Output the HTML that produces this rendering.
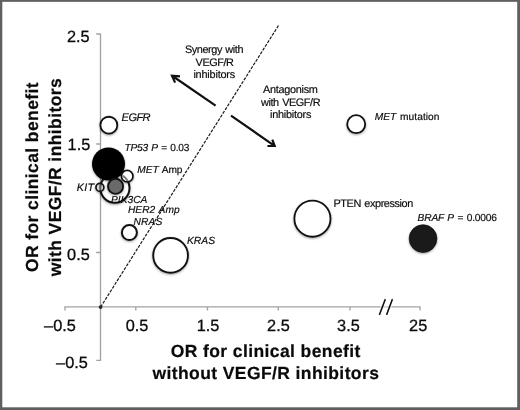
<!DOCTYPE html>
<html><head><meta charset="utf-8"><title>OR for clinical benefit</title>
<style>
html,body{margin:0;padding:0;background:#fff;}
body{width:520px;height:410px;overflow:hidden;}
svg{display:block;font-family:"Liberation Sans",Arial,Helvetica,sans-serif;text-rendering:geometricPrecision;}
.ax{stroke:#a2a2a2;stroke-width:1.35;fill:none;}
.tk{font-size:16.3px;fill:#0c0c0c;stroke:#0c0c0c;stroke-width:0.3px;}
.lb{font-size:10.9px;letter-spacing:-0.45px;word-spacing:0.8px;fill:#0c0c0c;stroke:#0c0c0c;stroke-width:0.18px;}
.it{font-style:italic;}
.ti{font-size:17.5px;letter-spacing:0.4px;font-weight:bold;fill:#0a0a0a;stroke:#0a0a0a;stroke-width:0.2px;}
.bb circle{filter:drop-shadow(0 1px 0.9px rgba(0,0,0,0.38));}
.ar{stroke:#111;stroke-width:2.2;fill:none;stroke-linecap:butt;stroke-linejoin:miter;}
</style></head>
<body>
<svg width="520" height="410" viewBox="0 0 520 410">
<rect x="0" y="0" width="520" height="410" fill="#fff"/>
<!-- frame -->
<rect x="0" y="0" width="520" height="1.85" fill="#606060"/>
<rect x="0" y="407.3" width="520" height="2.7" fill="#606060"/>
<rect x="0" y="0" width="2.3" height="410" fill="#606060"/>
<rect x="517.2" y="0" width="2.8" height="410" fill="#606060"/>

<!-- axes -->
<path class="ax" d="M100.5 33.4V361 M96.2 34H100.5 M96.2 144H100.5 M96.2 252.5H100.5 M96.2 360.4H100.5"/>
<path class="ax" d="M64.4 306.9H420.6 M65 307V310.6 M135.8 307V310.6 M207.5 307V310.6 M278.3 307V310.6 M350 307V310.6 M420 307V310.6"/>

<!-- dashed identity line -->
<line x1="100.6" y1="307.1" x2="278.8" y2="25" stroke="#1a1a1a" stroke-width="1.2" stroke-dasharray="3.1 1.3"/>
<circle cx="100.6" cy="307.1" r="1.9" fill="#2a2a2a"/>

<!-- axis break -->
<rect x="380" y="305" width="12" height="4" fill="#fff" fill-opacity="0.45"/>
<path d="M379.6 314.2L385.1 299.7 M386.8 314.2L392.2 299.7" stroke="#111" stroke-width="1.6" stroke-linecap="round" fill="none"/>

<!-- tick labels -->
<text class="tk" transform="translate(66.9 42.1) scale(1 1)">2.5</text>
<text class="tk" transform="translate(67.6 150) scale(1 1)">1.5</text>
<text class="tk" transform="translate(67.1 259.5) scale(1 1)">0.5</text>
<text class="tk" transform="translate(56.1 368) scale(1 1)">–0.5</text>
<text class="tk" transform="translate(44.1 330.6) scale(1 1)">–0.5</text>
<text class="tk" transform="translate(125.7 330.6) scale(1 1)">0.5</text>
<text class="tk" transform="translate(196.7 330.6) scale(1 1)">1.5</text>
<text class="tk" transform="translate(267.1 330.6) scale(1 1)">2.5</text>
<text class="tk" transform="translate(337.1 330.6) scale(1 1)">3.5</text>
<text class="tk" transform="translate(409.1 330.6) scale(1 1)">25</text>

<!-- bubbles -->
<defs><clipPath id="cm"><circle cx="127.2" cy="176.2" r="4.95"/></clipPath></defs>
<g class="bb">
<circle cx="114.9" cy="188.1" r="14.6" fill="#fff" stroke="#111" stroke-width="2"/>
<circle cx="108.5" cy="164" r="16.5" fill="#000"/>
<circle cx="127.2" cy="176.2" r="5.75" fill="#fff" stroke="#111" stroke-width="1.7"/>
<circle cx="114.9" cy="188.1" r="14.6" fill="none" stroke="#7d7d7d" stroke-width="1.9" clip-path="url(#cm)" style="filter:none"/>
<circle cx="115.55" cy="186.3" r="7.55" fill="#6a6a6a" stroke="#111" stroke-width="1.9"/>
<circle cx="99.9" cy="187.4" r="3.95" fill="#fff" fill-opacity="0.3" stroke="#111" stroke-width="1.7"/>
<circle cx="108.85" cy="125.2" r="8.45" fill="#fff" stroke="#111" stroke-width="1.8"/>
<circle cx="129.4" cy="232.6" r="7.5" fill="#fff" stroke="#111" stroke-width="2"/>
<circle cx="170.6" cy="255.4" r="17.35" fill="#fff" stroke="#111" stroke-width="1.9"/>
<circle cx="312.45" cy="218.7" r="18.05" fill="#fff" stroke="#111" stroke-width="1.8"/>
<circle cx="356.2" cy="124.2" r="9" fill="#fff" stroke="#111" stroke-width="1.8"/>
<circle cx="423.05" cy="238.6" r="13.9" fill="#1a1a1a" stroke="#0a0a0a" stroke-width="0.6"/>
</g>

<!-- bubble labels -->
<text class="lb it" style="letter-spacing:-0.6px;font-size:11.1px;" transform="translate(121.6 120.8) scale(1 1)">EGFR</text>
<text class="lb" style="letter-spacing:-0.23px;font-size:10.2px;" transform="translate(124.4 151.2) scale(1 1)"><tspan class="it">TP53 P</tspan> = 0.03</text>
<text class="lb" style="letter-spacing:-0.05px;font-size:10.2px;" transform="translate(137.3 172.5) scale(1 1)"><tspan class="it">MET</tspan> Amp</text>
<text class="lb it" style="letter-spacing:0.35px;font-size:10.8px;" transform="translate(76.7 190.8) scale(1 1)">KIT</text>
<text class="lb it" style="letter-spacing:0.05px;font-size:10.2px;" transform="translate(110.9 203.4) scale(1 1)">PIK3CA</text>
<text class="lb it" style="letter-spacing:0.05px;font-size:10.2px;" transform="translate(127.9 212.7) scale(1 1)">HER2 Amp</text>
<text class="lb it" style="letter-spacing:0.2px;font-size:10.2px;" transform="translate(133.5 224.5) scale(1 1)">NRAS</text>
<text class="lb it" style="letter-spacing:0px;font-size:10.3px;" transform="translate(187 243.6) scale(1 1)">KRAS</text>
<text class="lb" style="letter-spacing:0.05px;font-size:10.2px;" transform="translate(374.7 119.8) scale(1 1)"><tspan class="it">MET</tspan> mutation</text>
<text class="lb" style="letter-spacing:-0.4px;font-size:10.9px;" transform="translate(333.4 206.6) scale(1 1)">PTEN expression</text>
<text class="lb" style="letter-spacing:-0.17px;font-size:10.2px;" transform="translate(417.6 221.2) scale(1 1)"><tspan class="it">BRAF P</tspan> = 0.0006</text>
<!-- annotations -->
<text class="lb" text-anchor="middle" style="letter-spacing:-0.42px;" transform="translate(214 53.2) scale(1 1)">Synergy with</text>
<text class="lb" text-anchor="middle" style="letter-spacing:-0.45px;" transform="translate(214.5 65.7) scale(1 1)">VEGF/R</text>
<text class="lb" text-anchor="middle" style="letter-spacing:-0.2px;" transform="translate(214.2 77.7) scale(1 1)">inhibitors</text>
<text class="lb" text-anchor="middle" style="letter-spacing:-0.3px;" transform="translate(290.3 92.6) scale(1 1)">Antagonism</text>
<text class="lb" text-anchor="middle" style="letter-spacing:-0.43px;" transform="translate(290.6 105.5) scale(1 1)">with VEGF/R</text>
<text class="lb" text-anchor="middle" style="letter-spacing:-0.25px;" transform="translate(290.6 117.6) scale(1 1)">inhibitors</text>

<!-- arrows -->
<path class="ar" d="M215.6 105.6L172.5 76 M180 76.4L172 75.7L175.1 82.6"/>
<path class="ar" d="M231 115.6L274.2 145.6 M272.3 139.6L274.7 146L267.4 146"/>

<!-- axis titles -->
<text class="ti" text-anchor="middle" transform="translate(265.7 356.7) scale(1 1)">OR for clinical benefit</text>
<text class="ti" text-anchor="middle" transform="translate(265.9 379.3) scale(1 1)">without VEGF/R inhibitors</text>
<text class="ti" text-anchor="middle" transform="translate(37.6 177) rotate(-90) scale(1 1)">OR for clinical benefit</text>
<text class="ti" text-anchor="middle" transform="translate(61 177.1) rotate(-90) scale(1 1)">with VEGF/R inhibitors</text>
</svg>
</body></html>
